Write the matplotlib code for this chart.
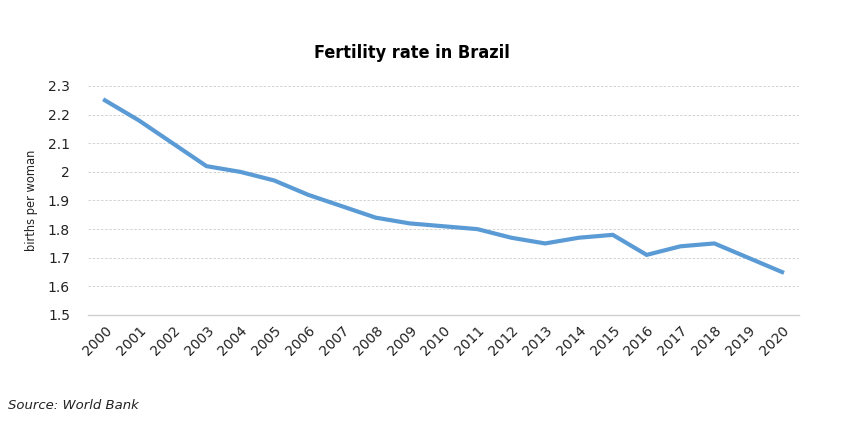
import matplotlib
matplotlib.use("Agg")
import matplotlib.pyplot as plt

years = [str(y) for y in range(2000, 2021)]
fertility = [2.25, 2.18, 2.10, 2.02, 2.00, 1.97, 1.92, 1.88, 1.84, 1.82, 1.81,
             1.80, 1.77, 1.75, 1.77, 1.78, 1.71, 1.74, 1.75, 1.70, 1.65]
yticks = [1.5, 1.6, 1.7, 1.8, 1.9, 2.0, 2.1, 2.2, 2.3]
ytick_labels = ["1.5", "1.6", "1.7", "1.8", "1.9", "2", "2.1", "2.2", "2.3"]

plt.rcParams['font.family'] = ['DejaVu Sans']
fig = plt.figure(figsize=(8.55, 4.23), dpi=100)
ax = fig.add_axes([88/855, 1-315/423, (799-88)/855, (315-86)/423])

x = list(range(len(years)))
ax.plot(x, fertility, color="#5B9BD5", lw=3, solid_joinstyle="miter")
ax.set_xlim(-0.5, len(years) - 0.5)
ax.set_ylim(1.5, 2.3)
ax.set_yticks(yticks)
ax.set_yticklabels(ytick_labels)
ax.set_xticks(x)
ax.set_xticklabels(years, rotation=45, ha="right", rotation_mode="anchor")
ax.tick_params(axis="both", length=0, labelsize=10, colors="#222222")
ax.tick_params(axis="y", pad=13)
ax.tick_params(axis="x", pad=6)
for s in ["top", "right", "left"]:
    ax.spines[s].set_visible(False)
ax.spines["bottom"].set_color("#d0d0d0")
ax.spines["bottom"].set_linewidth(1)
ax.grid(axis="y", color="#cccccc", lw=0.6, ls=(0, (3, 2)))
ax.set_axisbelow(True)
ax.set_ylabel("births per woman", fontsize=8.3, color="#222222", labelpad=7)

fig.text(412/855, 1-53/423, "Fertility rate in Brazil", ha="center", va="center",
         fontsize=13, fontweight="bold", fontstretch="condensed")
fig.text(8/855, 1-405/423, "Source: World Bank", ha="left", va="center",
         fontsize=9.5, style="italic", color="#222222")

fig.savefig("out.png", dpi=100, facecolor="white")
